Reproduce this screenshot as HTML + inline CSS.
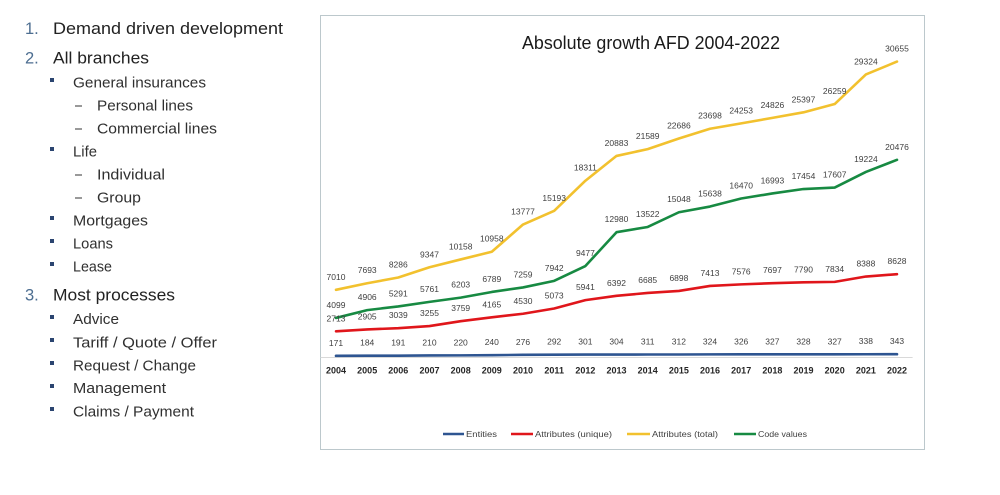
<!DOCTYPE html>
<html><head><meta charset="utf-8"><style>
html,body{margin:0;padding:0;background:#fff;}
svg{display:block;}
</style></head><body>
<svg width="1000" height="495" viewBox="0 0 1000 495" xmlns="http://www.w3.org/2000/svg" font-family="'Liberation Sans', sans-serif">
<rect x="0" y="0" width="1000" height="495" fill="#ffffff"/>
<!-- Left list -->
<g font-size="16.5" fill="#222">
<text x="25" y="34" fill="#4d6e91">1.</text>
<text x="53" y="34" textLength="230" lengthAdjust="spacingAndGlyphs">Demand driven development</text>
<text x="25" y="63.5" fill="#4d6e91">2.</text>
<text x="53" y="63.5" textLength="96" lengthAdjust="spacingAndGlyphs">All branches</text>
<text x="25" y="300.7" fill="#4d6e91">3.</text>
<text x="53" y="300.7" textLength="122" lengthAdjust="spacingAndGlyphs">Most processes</text>
</g>
<g font-size="14.5" fill="#303030">
<text x="73" y="87.3" textLength="133" lengthAdjust="spacingAndGlyphs">General insurances</text>
<text x="97" y="110.5" textLength="96" lengthAdjust="spacingAndGlyphs">Personal lines</text>
<text x="97" y="133.5" textLength="120" lengthAdjust="spacingAndGlyphs">Commercial lines</text>
<text x="73" y="156.5" textLength="24" lengthAdjust="spacingAndGlyphs">Life</text>
<text x="97" y="179.5" textLength="68" lengthAdjust="spacingAndGlyphs">Individual</text>
<text x="97" y="202.3" textLength="44" lengthAdjust="spacingAndGlyphs">Group</text>
<text x="73" y="225.3" textLength="75" lengthAdjust="spacingAndGlyphs">Mortgages</text>
<text x="73" y="248.3" textLength="40" lengthAdjust="spacingAndGlyphs">Loans</text>
<text x="73" y="271.3" textLength="39" lengthAdjust="spacingAndGlyphs">Lease</text>
<text x="73" y="324" textLength="46" lengthAdjust="spacingAndGlyphs">Advice</text>
<text x="73" y="347.3" textLength="144" lengthAdjust="spacingAndGlyphs">Tariff / Quote / Offer</text>
<text x="73" y="370.3" textLength="123" lengthAdjust="spacingAndGlyphs">Request / Change</text>
<text x="73" y="393" textLength="93" lengthAdjust="spacingAndGlyphs">Management</text>
<text x="73" y="416.5" textLength="121" lengthAdjust="spacingAndGlyphs">Claims / Payment</text>
</g>
<g fill="#2b4570">
<rect x="50" y="78" width="4" height="4"/>
<rect x="50" y="147" width="4" height="4"/>
<rect x="50" y="216" width="4" height="4"/>
<rect x="50" y="239" width="4" height="4"/>
<rect x="50" y="262" width="4" height="4"/>
<rect x="50" y="315" width="4" height="4"/>
<rect x="50" y="338" width="4" height="4"/>
<rect x="50" y="361" width="4" height="4"/>
<rect x="50" y="384" width="4" height="4"/>
<rect x="50" y="407" width="4" height="4"/>
</g>
<g stroke="#555" stroke-width="1.2">
<line x1="75" y1="106" x2="82" y2="106"/>
<line x1="75" y1="129" x2="82" y2="129"/>
<line x1="75" y1="175" x2="82" y2="175"/>
<line x1="75" y1="198" x2="82" y2="198"/>
</g>

<!-- Chart box -->
<rect x="320.5" y="15.5" width="604" height="434" fill="#fff" stroke="#bcc8cc" stroke-width="1"/>
<text x="651" y="49" font-size="18" fill="#1a1a1a" text-anchor="middle" textLength="258" lengthAdjust="spacingAndGlyphs">Absolute growth AFD 2004-2022</text>

<!-- axis -->
<line x1="320.5" y1="357.5" x2="912.6" y2="357.5" stroke="#d9d9d9" stroke-width="1"/>

<g fill="none" stroke-width="2.6" stroke-linejoin="round" stroke-linecap="round">
<polyline stroke="#2e5591" points="336.0,355.85 367.2,355.7 398.3,355.66 429.5,355.47 460.7,355.38 491.8,355.18 523.0,354.84 554.2,354.68 585.4,354.6 616.5,354.57 647.7,354.5 678.9,354.49 710.0,354.37 741.2,354.35 772.4,354.34 803.5,354.33 834.7,354.34 865.9,354.24 897.0,354.19"/>
<polyline stroke="#e0161b" points="336.0,331.31 367.2,329.46 398.3,328.16 429.5,326.08 460.7,321.21 491.8,317.30 523.0,313.77 554.2,308.53 585.4,300.15 616.5,295.80 647.7,292.97 678.9,290.91 710.0,285.94 741.2,284.37 772.4,283.20 803.5,282.30 834.7,281.88 865.9,276.53 897.0,274.21"/>
<polyline stroke="#f2c12e" points="336.0,289.83 367.2,283.24 398.3,277.52 429.5,267.27 460.7,259.44 491.8,251.72 523.0,224.51 554.2,210.84 585.4,180.74 616.5,155.92 647.7,149.10 678.9,138.51 710.0,128.74 741.2,123.39 772.4,117.85 803.5,112.34 834.7,104.02 865.9,74.43 897.0,61.59"/>
<polyline stroke="#178a42" points="336.0,317.93 367.2,310.14 398.3,306.43 429.5,301.89 460.7,297.62 491.8,291.97 523.0,287.43 554.2,280.84 585.4,266.02 616.5,232.20 647.7,226.97 678.9,212.24 710.0,206.55 741.2,198.52 772.4,193.47 803.5,189.02 834.7,187.54 865.9,171.93 897.0,159.84"/>
</g>

<g font-size="8.5" fill="#404040" text-anchor="middle">
<!-- Entities -->
<text x="336.0" y="345.9">171</text><text x="367.2" y="345.7">184</text><text x="398.3" y="345.7">191</text><text x="429.5" y="345.5">210</text><text x="460.7" y="345.4">220</text><text x="491.8" y="345.2">240</text><text x="523.0" y="344.8">276</text><text x="554.2" y="344.7">292</text><text x="585.4" y="344.6">301</text><text x="616.5" y="344.6">304</text><text x="647.7" y="344.5">311</text><text x="678.9" y="344.5">312</text><text x="710.0" y="344.4">324</text><text x="741.2" y="344.4">326</text><text x="772.4" y="344.3">327</text><text x="803.5" y="344.3">328</text><text x="834.7" y="344.3">327</text><text x="865.9" y="344.2">338</text><text x="897.0" y="344.2">343</text>
<!-- Red -->
<text x="336.0" y="321.3">2713</text><text x="367.2" y="319.5">2905</text><text x="398.3" y="318.2">3039</text><text x="429.5" y="316.1">3255</text><text x="460.7" y="311.2">3759</text><text x="491.8" y="307.3">4165</text><text x="523.0" y="303.8">4530</text><text x="554.2" y="298.5">5073</text><text x="585.4" y="290.2">5941</text><text x="616.5" y="285.8">6392</text><text x="647.7" y="283.0">6685</text><text x="678.9" y="280.9">6898</text><text x="710.0" y="275.9">7413</text><text x="741.2" y="274.4">7576</text><text x="772.4" y="273.2">7697</text><text x="803.5" y="272.3">7790</text><text x="834.7" y="271.9">7834</text><text x="865.9" y="266.5">8388</text><text x="897.0" y="264.2">8628</text>
<!-- Yellow -->
<text x="336.0" y="279.8">7010</text><text x="367.2" y="273.2">7693</text><text x="398.3" y="267.5">8286</text><text x="429.5" y="257.3">9347</text><text x="460.7" y="249.4">10158</text><text x="491.8" y="241.7">10958</text><text x="523.0" y="214.5">13777</text><text x="554.2" y="200.8">15193</text><text x="585.4" y="170.7">18311</text><text x="616.5" y="145.9">20883</text><text x="647.7" y="139.1">21589</text><text x="678.9" y="128.5">22686</text><text x="710.0" y="118.7">23698</text><text x="741.2" y="113.4">24253</text><text x="772.4" y="107.9">24826</text><text x="803.5" y="102.3">25397</text><text x="834.7" y="94.0">26259</text><text x="865.9" y="64.4">29324</text><text x="897.0" y="51.6">30655</text>
<!-- Green -->
<text x="336.0" y="307.9">4099</text><text x="367.2" y="300.1">4906</text><text x="398.3" y="296.4">5291</text><text x="429.5" y="291.9">5761</text><text x="460.7" y="287.6">6203</text><text x="491.8" y="282.0">6789</text><text x="523.0" y="277.4">7259</text><text x="554.2" y="270.8">7942</text><text x="585.4" y="256.0">9477</text><text x="616.5" y="222.2">12980</text><text x="647.7" y="217.0">13522</text><text x="678.9" y="202.2">15048</text><text x="710.0" y="196.5">15638</text><text x="741.2" y="188.5">16470</text><text x="772.4" y="183.5">16993</text><text x="803.5" y="179.0">17454</text><text x="834.7" y="177.5">17607</text><text x="865.9" y="161.9">19224</text><text x="897.0" y="149.8">20476</text>
</g>

<g font-size="9" font-weight="bold" fill="#262626" text-anchor="middle">
<text x="336.0" y="373.5">2004</text><text x="367.2" y="373.5">2005</text><text x="398.3" y="373.5">2006</text><text x="429.5" y="373.5">2007</text><text x="460.7" y="373.5">2008</text><text x="491.8" y="373.5">2009</text><text x="523.0" y="373.5">2010</text><text x="554.2" y="373.5">2011</text><text x="585.4" y="373.5">2012</text><text x="616.5" y="373.5">2013</text><text x="647.7" y="373.5">2014</text><text x="678.9" y="373.5">2015</text><text x="710.0" y="373.5">2016</text><text x="741.2" y="373.5">2017</text><text x="772.4" y="373.5">2018</text><text x="803.5" y="373.5">2019</text><text x="834.7" y="373.5">2020</text><text x="865.9" y="373.5">2021</text><text x="897.0" y="373.5">2022</text>
</g>

<!-- Legend -->
<g stroke-width="2.6">
<line x1="443" y1="434" x2="464" y2="434" stroke="#2e5591"/>
<line x1="511" y1="434" x2="533" y2="434" stroke="#e0161b"/>
<line x1="627" y1="434" x2="650" y2="434" stroke="#f2c12e"/>
<line x1="734" y1="434" x2="756" y2="434" stroke="#178a42"/>
</g>
<g font-size="8" fill="#404040">
<text x="466" y="437" textLength="31" lengthAdjust="spacingAndGlyphs">Entities</text>
<text x="535" y="437" textLength="77" lengthAdjust="spacingAndGlyphs">Attributes (unique)</text>
<text x="652" y="437" textLength="66" lengthAdjust="spacingAndGlyphs">Attributes (total)</text>
<text x="758" y="437" textLength="49" lengthAdjust="spacingAndGlyphs">Code values</text>
</g>
</svg>
</body></html>
